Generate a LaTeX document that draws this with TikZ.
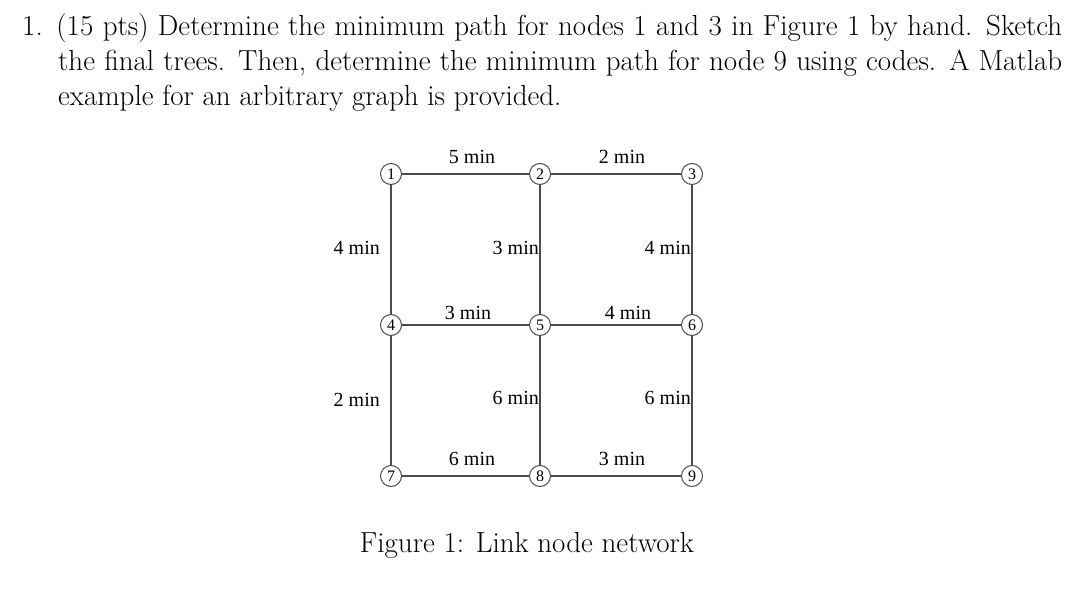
\documentclass[tikz,border=0pt]{standalone}
\usepackage{fontspec}
\newfontfamily\tms{Liberation Serif}
\begin{document}
\begin{tikzpicture}[x=1pt,y=-1pt,
  nd/.style={circle,draw=black!70,fill=white,inner sep=0pt,minimum size=21pt,line width=1pt,font=\tms\fontsize{16}{16}\selectfont},
  lab/.style={font=\tms\fontsize{20}{20}\selectfont,inner sep=1pt},
  ln/.style={draw=black!70,line width=1.3pt},
  txt/.style={anchor=base west,inner sep=0pt,font=\fontsize{29}{34}\selectfont}]
\useasboundingbox (0,0) rectangle (1086,593);
\node[txt] (l1) at (22,36) {\makebox[1040pt][s]{1. (15 pts) Determine the minimum path for nodes 1 and 3 in Figure 1 by hand. Sketch}};
\node[txt] (l2) at (58,71) {\makebox[1004pt][s]{the final trees. Then, determine the minimum path for node 9 using codes. A Matlab}};
\node[txt] (l3) at (58,106) {example for an arbitrary graph is provided.};
\foreach \n/\x/\y in {1/391/174,2/540/174,3/692/174,4/391/325,5/540/325,6/692/325,7/391/476,8/540/476,9/692/476}
  \coordinate (c\n) at (\x,\y);
\draw[ln] (c1)--(c2)--(c3)--(c6)--(c9)--(c8)--(c7)--(c4)--(c1);
\draw[ln] (c2)--(c8) (c4)--(c6);
\foreach \n in {1,...,9} \node[nd] (n\n) at (c\n) {\n};
\node[lab] (a) at (472,157) {5 min};
\node[lab] (b) at (622,157) {2 min};
\node[lab,anchor=east] (c) at (381,248) {4 min};
\node[lab,anchor=east] (d) at (540,248) {3 min};
\node[lab,anchor=east] (e) at (692,248) {4 min};
\node[lab] (f) at (468,313) {3 min};
\node[lab] (g) at (628,313) {4 min};
\node[lab,anchor=east] (h) at (381,400) {2 min};
\node[lab,anchor=east] (i) at (540,398) {6 min};
\node[lab,anchor=east] (j) at (692,398) {6 min};
\node[lab] (k) at (472,459) {6 min};
\node[lab] (m) at (622,459) {3 min};
\node[font=\fontsize{29}{34}\selectfont] (cap) at (527,545) {Figure 1: Link node network};
\end{tikzpicture}
\end{document}
